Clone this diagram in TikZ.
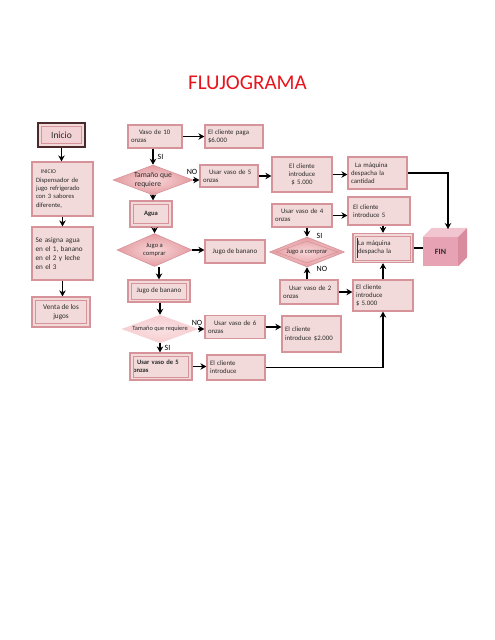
\documentclass[tikz,border=0pt]{standalone}
\usepackage{fontspec}
\setmainfont{Carlito}
\usetikzlibrary{shapes.geometric,arrows.meta,calc}
\definecolor{pfill}{HTML}{F3DADA}
\definecolor{pdraw}{HTML}{D6949A}
\definecolor{dinner}{HTML}{F8D6D8}
\definecolor{douter}{HTML}{E49CA1}
\definecolor{faint}{HTML}{F6CDD0}
\definecolor{tcol}{HTML}{2A2A2A}
\definecolor{dframe}{HTML}{4A2A2A}
\definecolor{finfront}{HTML}{E7A3B3}
\definecolor{fintop}{HTML}{F1C6D0}
\definecolor{finside}{HTML}{D98C9E}
\definecolor{titlered}{HTML}{E8141C}
\begin{document}
\begin{tikzpicture}[x=1pt,y=-1pt,
  box/.style={draw=pdraw,fill=pfill,line width=1.2pt,inner sep=3pt,
    font=\fontsize{6.8}{8.2}\selectfont,text=tcol,align=left},
  bigbox/.style={box,font=\fontsize{7.2}{9}\selectfont},
  dia/.style={diamond,draw=pdraw,line width=0.6pt,inner sep=0pt,
    inner color=dinner,outer color=douter},
  dtext/.style={font=\fontsize{6.6}{8}\selectfont,text=tcol,align=center,inner sep=0pt},
  arr/.style={-{Stealth[length=6pt,width=6.5pt]},line width=1.6pt,black},
  ln/.style={line width=1.6pt,black},
  lab/.style={font=\fontsize{8}{9}\selectfont,inner sep=0.5pt,text=black},
  innerframe/.style={draw=pdraw,line width=0.7pt}
]
\useasboundingbox (0,0) rectangle (495,640);

% title
\node[font=\fontsize{21}{24}\selectfont,text=titlered] (title) at (247.5,83) {FLUJOGRAMA};

% ---------- left column ----------
\node[draw=dframe,fill=pfill,line width=1.6pt,minimum width=47pt,minimum height=24pt,
  font=\fontsize{9.5}{11}\selectfont,text=tcol,inner sep=0pt] (inicio) at (61.5,135) {Inicio};
\draw[pdraw,line width=0.8pt,fill=douter!45] ([shift={(4pt,-4pt)}]inicio.north west) rectangle ([shift={(-4pt,4pt)}]inicio.south east);
\node[font=\fontsize{9.5}{11}\selectfont,text=tcol] (iniciotext) at (inicio.center) {Inicio};

\node[bigbox,minimum width=61pt,minimum height=54pt,text width=53pt,font=\fontsize{6.6}{8.4}\selectfont] (b2) at (62.5,189)
  {\hspace*{5pt}{\fontsize{5.8}{7}\selectfont INICIO}\\Dispensador de\\jugo refrigerado\\con 3 sabores\\diferente,\\[2pt]};
\node[bigbox,minimum width=61pt,minimum height=53pt,text width=54pt] (b3) at (62.5,253.5)
  {Se asigna agua\\en el 1, banano\\en el 2 y leche\\en el 3\\[4pt]};
\node[bigbox,minimum width=58pt,minimum height=30pt,align=center] (b4) at (61,312) {Venta de los\\jugos};
\draw[innerframe] ([shift={(4pt,-4pt)}]b4.north west) rectangle ([shift={(-4pt,4pt)}]b4.south east);

\draw[arr] (inicio.south) -- (inicio.south |- b2.north);
\draw[arr] (b2.south) -- (b2.south |- b3.north);
\draw[arr] (b3.south) -- (b3.south |- b4.north);

% ---------- middle column ----------
\node[box,minimum width=54pt,minimum height=23pt,text width=48pt] (v10) at (155,136.5) {\hspace*{8pt}Vaso de 10\\onzas};
\node[box,minimum width=58pt,minimum height=23pt,text width=52pt] (paga) at (234,136.5) {El cliente paga\\\$6.000};
\node[dia,minimum width=80pt,minimum height=30pt] (d1) at (153,180) {};
\node[dtext,font=\fontsize{7.6}{9}\selectfont] (d1t) at (d1.center) {Tamaño que\\\hspace*{-10pt}requiere};
\node[box,minimum width=58pt,minimum height=22pt,text width=52pt] (u5) at (229,176) {\hspace*{6pt}Usar vaso de 5\\onzas};
\node[box,minimum width=60pt,minimum height=35pt,text width=54pt,align=center] (ci5) at (302,174.5) {El cliente\\introduce\\\$ 5.000};
\node[box,minimum width=59pt,minimum height=32pt,text width=53pt] (md) at (377.5,173) {\hspace*{4pt}La máquina\\despacha la\\cantidad};

\node[box,minimum width=42pt,minimum height=26pt,align=center,font=\fontsize{6.6}{8}\selectfont\bfseries] (agua) at (151,214) {Agua};
\draw[innerframe] ([shift={(4pt,-4pt)}]agua.north west) rectangle ([shift={(-4pt,4pt)}]agua.south east);

\node[dia,minimum width=75pt,minimum height=33pt] (d2) at (154.5,250) {};
\node[dtext] (d2t) at (d2.center) {Jugo a\\comprar};
\node[bigbox,minimum width=60pt,minimum height=23pt,align=center,font=\fontsize{7}{8}\selectfont] (jb1) at (235,251.5) {Jugo de banano};
\node[bigbox,minimum width=62pt,minimum height=22pt,align=center,font=\fontsize{7}{8}\selectfont] (jb2) at (159,291) {Jugo de banano};
\draw[innerframe] ([shift={(4pt,-3.5pt)}]jb2.north west) rectangle ([shift={(-4pt,3.5pt)}]jb2.south east);

\node[diamond,inner sep=0pt,minimum width=76pt,minimum height=28pt,inner color=faint!60,outer color=faint,draw=faint!80!white,line width=0.5pt] (d3) at (160,329) {};
\node[dtext,font=\fontsize{6.4}{8}\selectfont] (d3t) at (d3.center) {Tamaño que requiere};
\node[box,minimum width=60pt,minimum height=23pt,text width=54pt] (u6) at (235,327) {\hspace*{6pt}Usar vaso de 6\\onzas};
\node[box,minimum width=59pt,minimum height=36pt,text width=53pt] (ci2) at (311.5,334) {El cliente\\introduce \$2.000};
\node[box,minimum width=62pt,minimum height=27pt,text width=56pt,font=\fontsize{6.6}{8}\selectfont\bfseries] (u5b) at (161,366.5) {\hspace*{4pt}Usar vaso de 5\\onzas};
\draw[innerframe] ([shift={(4pt,-3.5pt)}]u5b.north west) rectangle ([shift={(-4pt,3.5pt)}]u5b.south east);
\node[box,minimum width=58pt,minimum height=25pt,text width=52pt] (ci) at (236,367.5) {El cliente\\introduce};

% ---------- right side ----------
\node[box,minimum width=60pt,minimum height=23pt,text width=54pt] (u4) at (302,215.5) {\hspace*{6pt}Usar vaso de 4\\onzas};
\node[box,minimum width=62pt,minimum height=28pt,text width=52pt] (ci5b) at (379,211) {El cliente\\introduce 5};
\node[dia,minimum width=75pt,minimum height=30pt] (d4) at (307,252) {};
\node[diamond,draw=pdraw,line width=0.6pt,inner sep=0pt,minimum width=62pt,minimum height=22pt] (d4in) at (d4.center) {};
\node[dtext] (d4t) at (d4.center) {Jugo a comprar};
\node[box,minimum width=60pt,minimum height=29pt,text width=50pt] (mdl) at (383,248) {La máquina\\despacha la};
\draw[innerframe] ([shift={(3pt,-3pt)}]mdl.north west) rectangle ([shift={(-3pt,3pt)}]mdl.south east);
\draw[dframe,line width=1.2pt] ([shift={(5pt,-5pt)}]mdl.north west) -- ([shift={(5pt,5pt)}]mdl.south west);
\node[box,minimum width=58pt,minimum height=24pt,text width=52pt] (u2) at (309,292) {\hspace*{6pt}Usar vaso de 2\\onzas};
\node[box,minimum width=60pt,minimum height=31pt,text width=54pt] (ci5c) at (383,295.5) {El cliente\\introduce\\\$ 5.000};

% FIN cube
\node[fill=finfront,minimum width=35pt,minimum height=29pt,inner sep=0pt,
  font=\fontsize{8}{9}\selectfont\bfseries,text=tcol] (fin) at (440.5,251.5) {FIN};
\fill[fintop] (fin.north west) -- ([shift={(9pt,9pt)}]fin.north west) -- ([shift={(9pt,9pt)}]fin.north east) -- (fin.north east) -- cycle;
\fill[finside] (fin.north east) -- ([shift={(9pt,9pt)}]fin.north east) -- ([shift={(9pt,9pt)}]fin.south east) -- (fin.south east) -- cycle;
\coordinate (fintopc) at (448,229);

% ---------- connectors ----------
\draw[arr] (v10.east) -- (v10.east -| paga.west);
\draw[arr] (v10.south -| d1.north) -- (d1.north);
\node[lab,anchor=west] (si1) at (157,157) {SI};
\draw[arr] (d1.east) -- (d1.east -| u5.west);
\node[lab,anchor=south] (no1) at (192,175) {NO};
\draw[arr] (u5.east) -- (u5.east -| ci5.west);
\draw[arr] (ci5.east) -- (ci5.east -| md.west);
\draw[arr] (md.east) -| (fintopc);
\draw[arr] (d1.south) -- (d1.south |- agua.north);
\draw[arr] (agua.south -| d2.north) -- (d2.north);
\draw[arr] (d2.east) -- (d2.east -| jb1.west);
\draw[arr] (d2.south -| jb2.north) -- (jb2.north);
\draw[arr] (jb2.south -| d3.north) -- (d3.north);
\draw[arr] (d3.east) -- (d3.east -| u6.west);
\node[lab,anchor=south] (no3) at (197,326) {NO};
\draw[arr] (u6.east) -- (u6.east -| ci2.west);
\draw[arr] (d3.south) -- (d3.south |- u5b.north);
\node[lab,anchor=west] (si3) at (164,348) {SI};
\draw[arr] (u5b.east) -- (u5b.east -| ci.west);
\draw[arr] (ci.east) -| (ci5c.south);
\draw[arr] (u4.east) -- (u4.east -| ci5b.west);
\draw[arr] (u4.south -| d4.north) -- (d4.north);
\node[lab,anchor=west] (si4) at (316,236) {SI};
\draw[arr] (ci5b.south -| mdl.north) -- (mdl.north);
\draw[ln] (mdl.east) -- (mdl.east -| fin.west);
\draw[arr] (u2.north -| d4.south) -- (d4.south);
\node[lab,anchor=west] (no4) at (316,269) {NO};
\draw[arr] (u2.east) -- (u2.east -| ci5c.west);
\draw[arr] (ci5c.north) -- (mdl.south);
\end{tikzpicture}
\end{document}
